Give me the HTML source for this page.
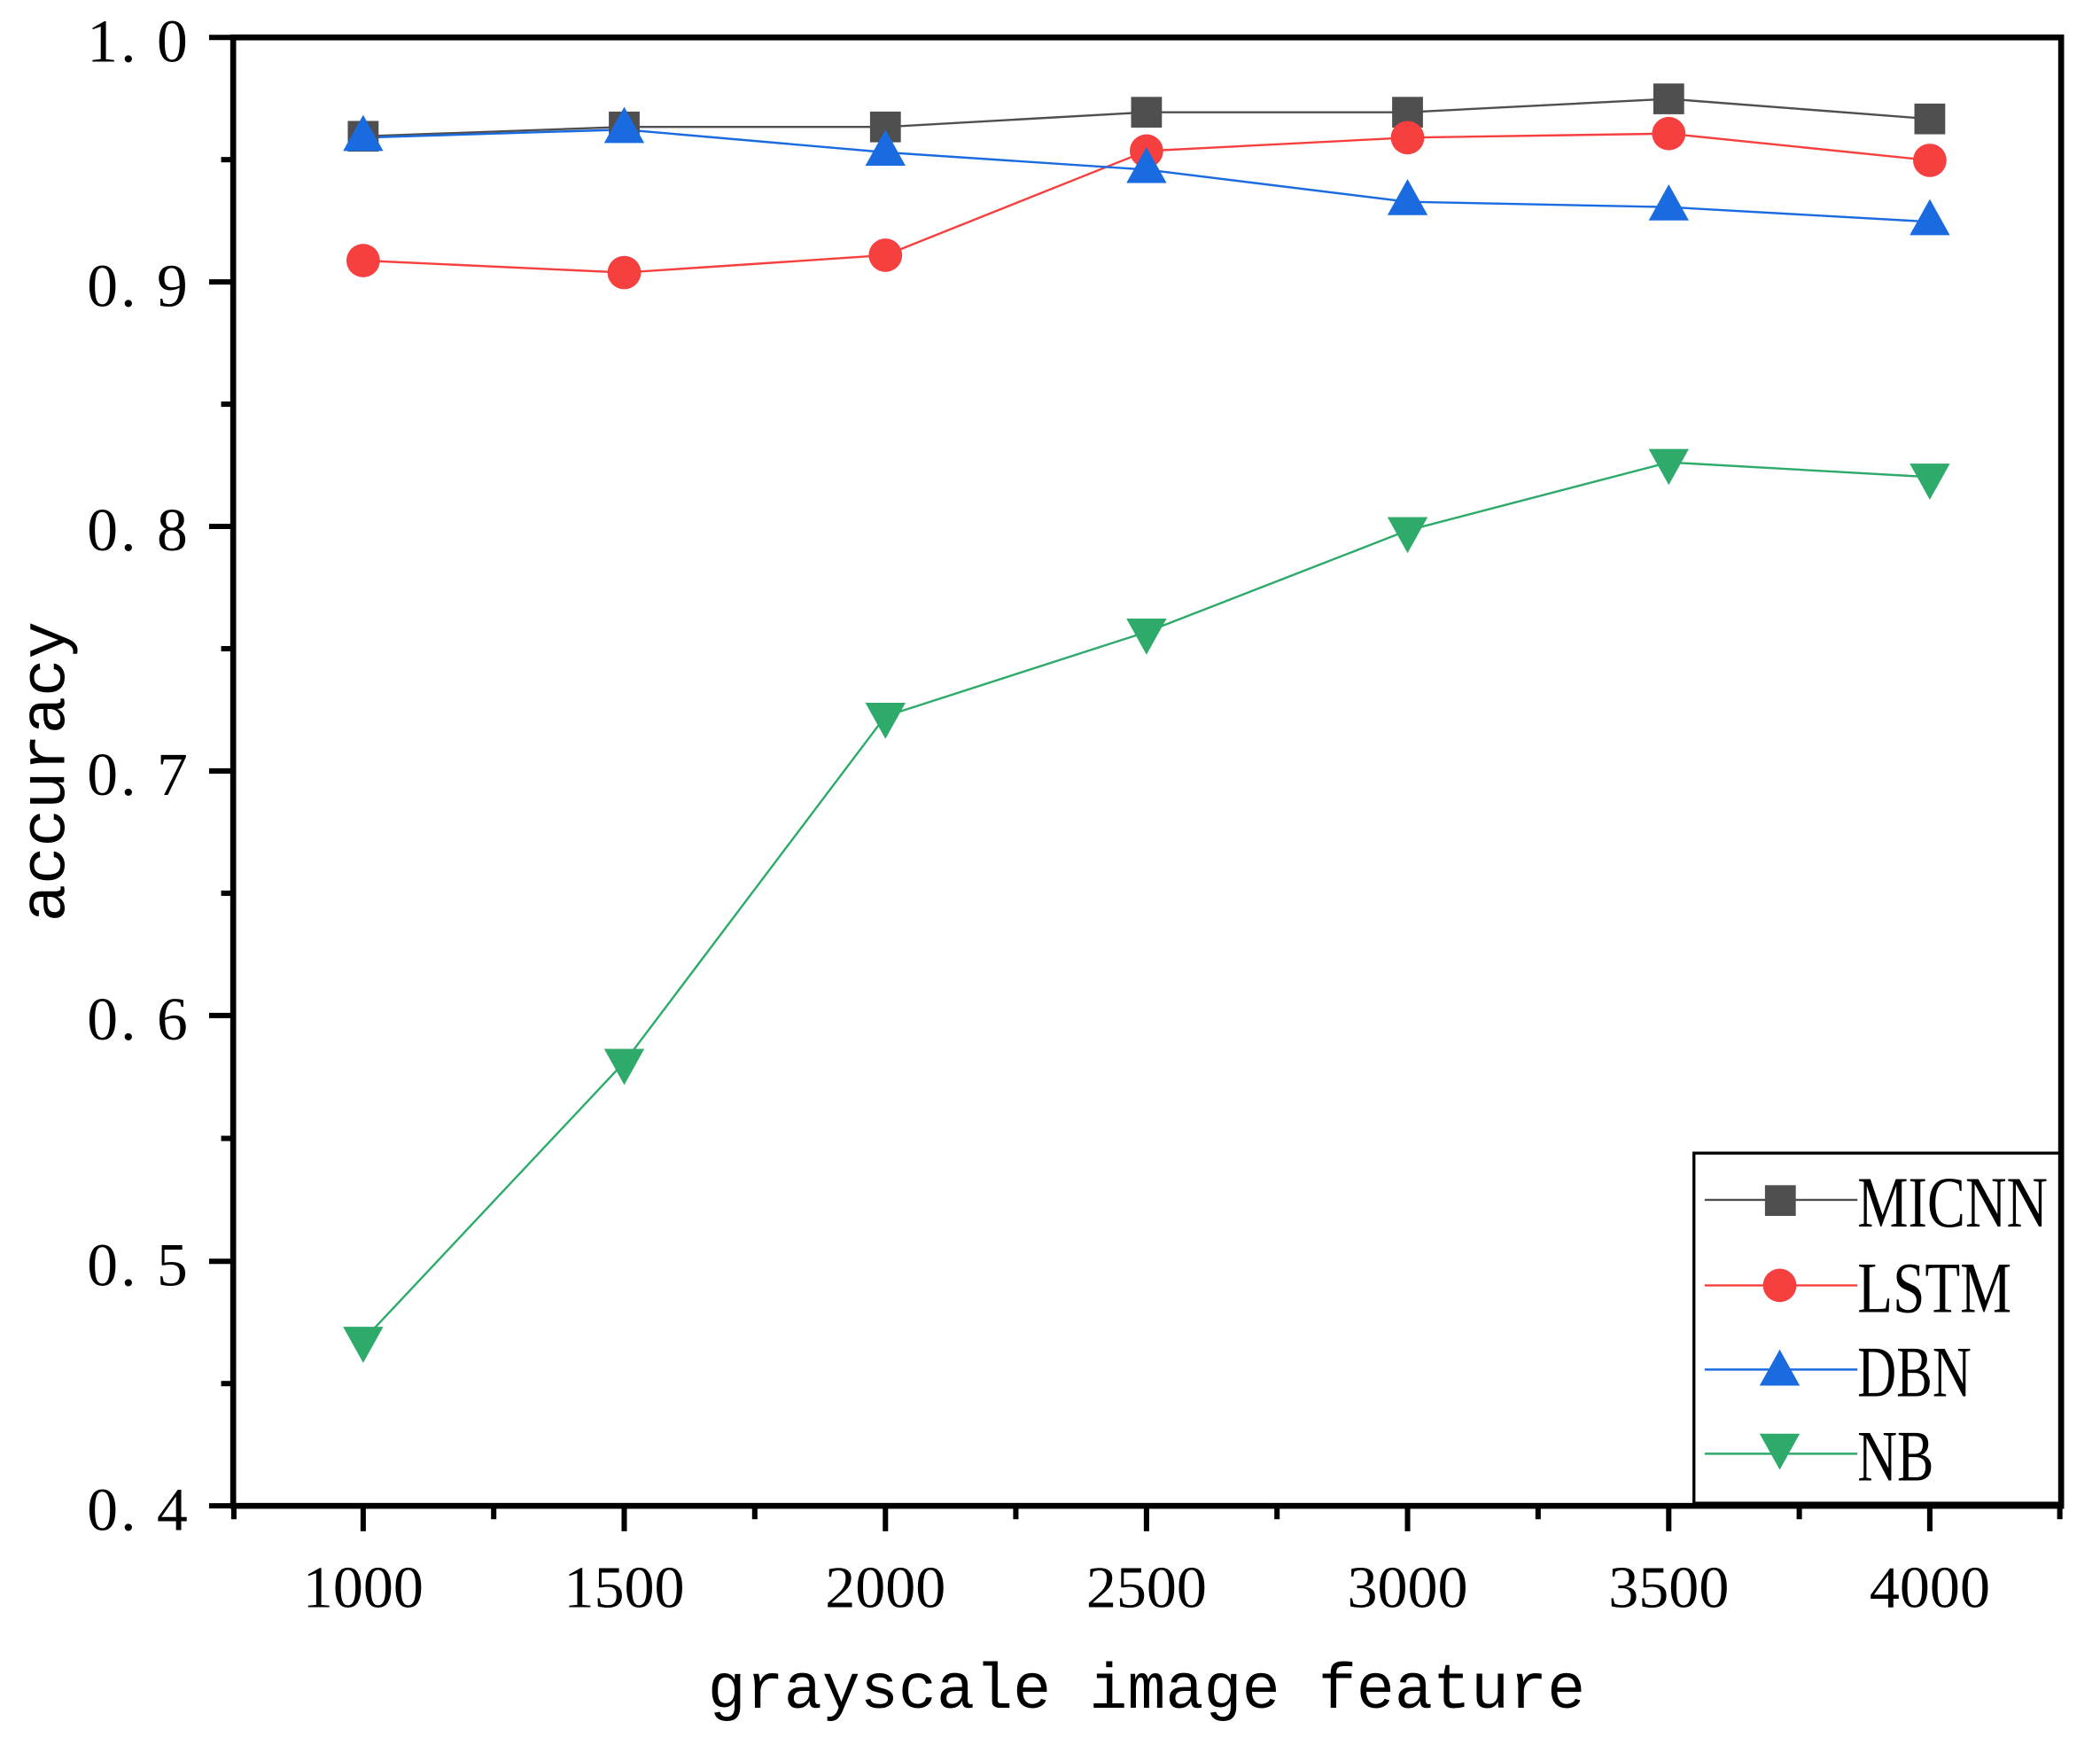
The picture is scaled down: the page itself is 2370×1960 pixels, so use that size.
<!DOCTYPE html>
<html><head><meta charset="utf-8"><style>
html,body{margin:0;padding:0;background:#fff;}
svg{display:block;}
text{font-family:"Liberation Serif","Noto Serif CJK SC",serif;fill:#000;}
.mono{font-family:"Liberation Mono","Noto Serif CJK SC",monospace;}
</style></head><body>
<svg width="2370" height="1960" viewBox="0 0 1567 1300" preserveAspectRatio="none" xmlns="http://www.w3.org/2000/svg">
<rect x="0" y="0" width="1567" height="1300" fill="#fff"/>
<g fill="none" stroke-width="1.6">
<polyline stroke="#4f4f4f" points="271,102 465.8,95 660.7,95 855.5,84 1050.3,84 1245.2,74 1440,89"/>
<polyline stroke="#f64040" points="271,195 465.8,204 660.7,191 855.5,113 1050.3,103 1245.2,100 1440,120"/>
<polyline stroke="#1a6be0" points="271,103 465.8,97 660.7,114 855.5,127 1050.3,151 1245.2,155 1440,166"/>
<polyline stroke="#2eaa6a" points="271,1003 465.8,795 660.7,536 855.5,473 1050.3,397 1245.2,346 1440,357"/>
</g>
<g fill="#4f4f4f">
<rect x="259.5" y="90.5" width="23" height="23"/><rect x="454.3" y="83.5" width="23" height="23"/><rect x="649.2" y="83.5" width="23" height="23"/><rect x="844" y="72.5" width="23" height="23"/><rect x="1038.8" y="72.5" width="23" height="23"/><rect x="1233.7" y="62.5" width="23" height="23"/><rect x="1428.5" y="77.5" width="23" height="23"/>
</g>
<g fill="#f64040">
<circle cx="271" cy="195" r="12.5"/><circle cx="465.8" cy="204" r="12.5"/><circle cx="660.7" cy="191" r="12.5"/><circle cx="855.5" cy="113" r="12.5"/><circle cx="1050.3" cy="103" r="12.5"/><circle cx="1245.2" cy="100" r="12.5"/><circle cx="1440" cy="120" r="12.5"/>
</g>
<g fill="#1a6be0">
<polygon points="271,86 256,113 286,113"/><polygon points="465.8,80 450.8,107 480.8,107"/><polygon points="660.7,97 645.7,124 675.7,124"/><polygon points="855.5,110 840.5,137 870.5,137"/><polygon points="1050.3,134 1035.3,161 1065.3,161"/><polygon points="1245.2,138 1230.2,165 1260.2,165"/><polygon points="1440,149 1425,176 1455,176"/>
</g>
<g fill="#2eaa6a">
<polygon points="256,993 286,993 271,1020"/><polygon points="450.8,785 480.8,785 465.8,812"/><polygon points="645.7,526 675.7,526 660.7,553"/><polygon points="840.5,463 870.5,463 855.5,490"/><polygon points="1035.3,387 1065.3,387 1050.3,414"/><polygon points="1230.2,336 1260.2,336 1245.2,363"/><polygon points="1425,347 1455,347 1440,374"/>
</g>
<rect x="1264" y="863" width="273" height="262" fill="#fff" stroke="#000" stroke-width="2.2"/>
<g stroke-width="1.6">
<line x1="1272" y1="898" x2="1386" y2="898" stroke="#4f4f4f"/>
<line x1="1272" y1="962" x2="1386" y2="962" stroke="#f64040"/>
<line x1="1272" y1="1025" x2="1386" y2="1025" stroke="#1a6be0"/>
<line x1="1272" y1="1088" x2="1386" y2="1088" stroke="#2eaa6a"/>
</g>
<rect x="1317" y="887" width="23" height="23" fill="#4f4f4f"/>
<circle cx="1328" cy="962" r="12.5" fill="#f64040"/>
<polygon points="1328,1010 1313,1037 1343,1037" fill="#1a6be0"/>
<polygon points="1313,1073 1343,1073 1328,1100" fill="#2eaa6a"/>
<text x="1386" y="918" font-size="54" textLength="142" lengthAdjust="spacingAndGlyphs">MICNN</text>
<text x="1386" y="982" font-size="54" textLength="115" lengthAdjust="spacingAndGlyphs">LSTM</text>
<text x="1386" y="1045" font-size="54" textLength="85" lengthAdjust="spacingAndGlyphs">DBN</text>
<text x="1386" y="1108" font-size="54" textLength="57" lengthAdjust="spacingAndGlyphs">NB</text>
<g stroke="#000" stroke-width="4.4" fill="none">
<rect x="174" y="28" width="1364" height="1099"/>
</g>
<g stroke="#000" stroke-width="4">
<line x1="156" y1="28" x2="174" y2="28"/><line x1="156" y1="211" x2="174" y2="211"/><line x1="156" y1="394" x2="174" y2="394"/><line x1="156" y1="577" x2="174" y2="577"/><line x1="156" y1="760" x2="174" y2="760"/><line x1="156" y1="944" x2="174" y2="944"/><line x1="156" y1="1127" x2="174" y2="1127"/>
<line x1="165" y1="119.5" x2="174" y2="119.5"/><line x1="165" y1="302.5" x2="174" y2="302.5"/><line x1="165" y1="485.5" x2="174" y2="485.5"/><line x1="165" y1="668.5" x2="174" y2="668.5"/><line x1="165" y1="852" x2="174" y2="852"/><line x1="165" y1="1035.5" x2="174" y2="1035.5"/>
<line x1="271" y1="1127" x2="271" y2="1146"/><line x1="465.8" y1="1127" x2="465.8" y2="1146"/><line x1="660.7" y1="1127" x2="660.7" y2="1146"/><line x1="855.5" y1="1127" x2="855.5" y2="1146"/><line x1="1050.3" y1="1127" x2="1050.3" y2="1146"/><line x1="1245.2" y1="1127" x2="1245.2" y2="1146"/><line x1="1440" y1="1127" x2="1440" y2="1146"/>
<line x1="174.5" y1="1127" x2="174.5" y2="1137"/><line x1="368.4" y1="1127" x2="368.4" y2="1137"/><line x1="563.2" y1="1127" x2="563.2" y2="1137"/><line x1="758" y1="1127" x2="758" y2="1137"/><line x1="952.9" y1="1127" x2="952.9" y2="1137"/><line x1="1147.7" y1="1127" x2="1147.7" y2="1137"/><line x1="1342.6" y1="1127" x2="1342.6" y2="1137"/><line x1="1537" y1="1127" x2="1537" y2="1137"/>
</g>
<g font-size="46" text-anchor="end" letter-spacing="2">
<text x="142" y="46">1. 0</text>
<text x="142" y="229">0. 9</text>
<text x="142" y="412">0. 8</text>
<text x="142" y="595">0. 7</text>
<text x="142" y="778">0. 6</text>
<text x="142" y="962">0. 5</text>
<text x="142" y="1145">0. 4</text>
</g>
<g font-size="44" text-anchor="middle">
<text x="271" y="1203" textLength="90" lengthAdjust="spacingAndGlyphs">1000</text>
<text x="465.8" y="1203" textLength="90" lengthAdjust="spacingAndGlyphs">1500</text>
<text x="660.7" y="1203" textLength="90" lengthAdjust="spacingAndGlyphs">2000</text>
<text x="855.5" y="1203" textLength="90" lengthAdjust="spacingAndGlyphs">2500</text>
<text x="1050.3" y="1203" textLength="90" lengthAdjust="spacingAndGlyphs">3000</text>
<text x="1245.2" y="1203" textLength="90" lengthAdjust="spacingAndGlyphs">3500</text>
<text x="1440" y="1203" textLength="90" lengthAdjust="spacingAndGlyphs">4000</text>
</g>
<text class="mono" x="528" y="1278" font-size="48" textLength="655" lengthAdjust="spacingAndGlyphs">grayscale image feature</text>
<text class="mono" transform="translate(48,690) rotate(-90)" font-size="48" textLength="225" lengthAdjust="spacingAndGlyphs">accuracy</text>
</svg>
</body></html>
